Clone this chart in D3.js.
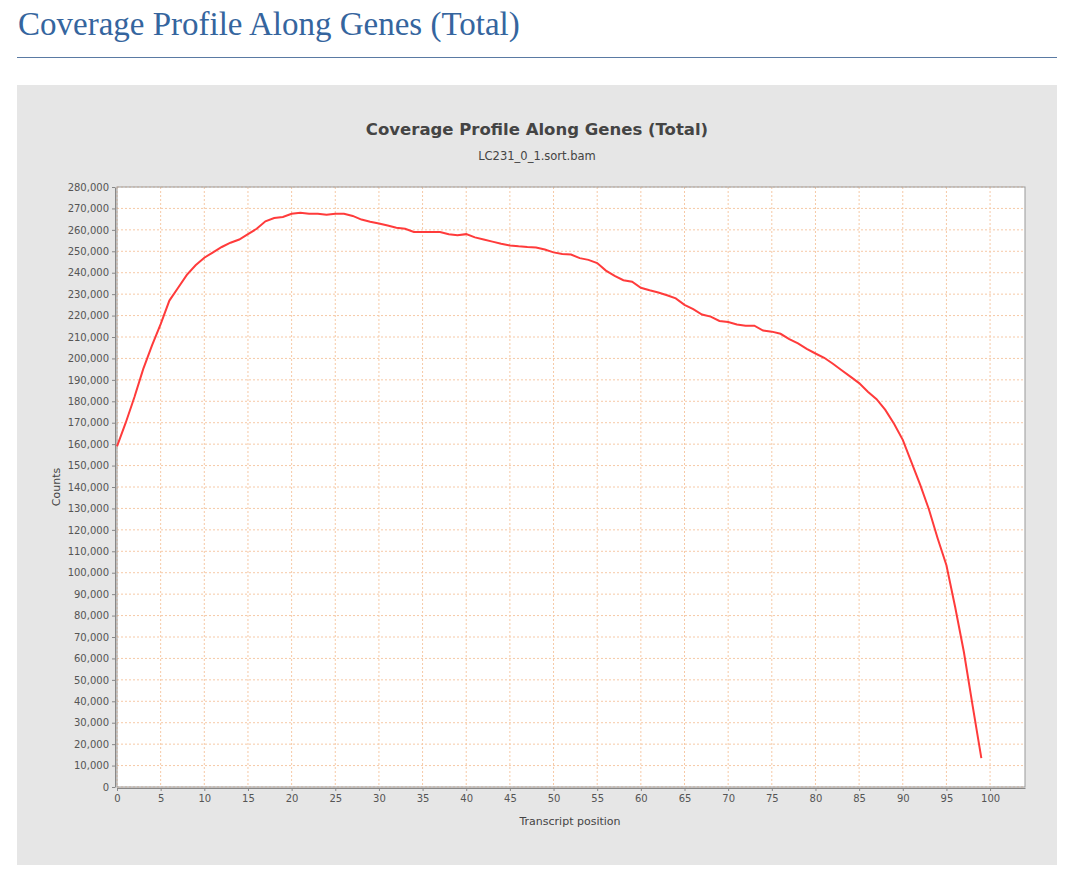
<!DOCTYPE html>
<html>
<head>
<meta charset="utf-8">
<script src="https://cdn.jsdelivr.net/npm/d3@7"></script>
<style>
  body { margin: 0; background: #fff; }
  h1 { font-family: "Liberation Serif", serif; font-weight: normal; color: #35659e;
       font-size: 33px; margin: 0; position: absolute; left: 18px; top: 6px; }
  .rule { position: absolute; left: 17px; top: 57px; width: 1040px; height: 1px; background: #5a7aa3; }
  #chart-area { position: absolute; left: 0; top: 0; }
</style>
</head>
<body>
<h1>Coverage Profile Along Genes (Total)</h1>
<div class="rule"></div>
<div id="chart-area"></div>
<script>
// counts per transcript position (0..99)
const positions = d3.range(0, 100)
const counts = [
  159000, 170000, 182000, 195000, 206000, 216000, 227000, 233000, 239000, 243500,
  247000, 249500, 252000, 254000, 255500, 258000, 260500, 264000, 265500, 266000,
  267500, 268000, 267500, 267500, 267000, 267500, 267500, 266500, 264800, 263800,
  263000, 262000, 261000, 260500, 259000, 259000, 259000, 259000, 258000, 257500,
  258000, 256500, 255500, 254500, 253500, 252700, 252300, 252000, 251800, 250800,
  249500, 248700, 248500, 246800, 246000, 244500, 241000, 238500, 236500, 235800,
  233000, 231800, 230800, 229500, 228000, 225000, 223000, 220500, 219500, 217500,
  217000, 215800, 215300, 215300, 213000, 212500, 211500, 209000, 207000, 204500,
  202300, 200300, 197500, 194500, 191500, 188500, 184500, 181000, 176000, 169500,
  162000, 151500, 141000, 129500, 116000, 103500, 84000, 63000, 38000, 13500
]
const xTicks = d3.range(0, 101, 5)
const yTicks = d3.range(0, 280001, 10000)

const title = "Coverage Profile Along Genes (Total)"
const subtitle = "LC231_0_1.sort.bam"

const svg = d3.select("#chart-area").append("svg")
    .attr("width", 1080)
    .attr("height", 874)

svg.append("rect")
    .attr("x", 17).attr("y", 85).attr("width", 1040).attr("height", 780)
    .style("fill", "#e6e6e6")

const pL = 117, pR = 1025, pT = 187, pB = 787
const x = d3.scaleLinear().domain([0, 104]).range([pL, pR])
const y = d3.scaleLinear().domain([0, 280000]).range([pB, pT])

svg.append("rect")
    .attr("x", pL).attr("y", pT).attr("width", pR - pL).attr("height", pB - pT)
    .style("fill", "#fff")

// grid
svg.append("g").selectAll("line").data(xTicks).enter().append("line")
    .attr("x1", d => x(d)).attr("x2", d => x(d)).attr("y1", pT).attr("y2", pB)
    .style("stroke", "#f6c9a6").style("stroke-dasharray", "2,2")
svg.append("g").selectAll("line").data(yTicks).enter().append("line")
    .attr("x1", pL).attr("x2", pR).attr("y1", d => y(d)).attr("y2", d => y(d))
    .style("stroke", "#f6c9a6").style("stroke-dasharray", "2,2")

svg.append("rect")
    .attr("x", pL).attr("y", pT).attr("width", pR - pL).attr("height", pB - pT)
    .style("fill", "none").style("stroke", "#999")

// axes
const xAxis = svg.append("g").attr("transform", `translate(0,${pB + 1})`)
    .call(d3.axisBottom(x).tickValues(xTicks).tickSize(3).tickSizeOuter(0).tickPadding(4))
const yAxis = svg.append("g").attr("transform", `translate(${pL - 2},0)`)
    .call(d3.axisLeft(y).tickValues(yTicks).tickSize(3).tickSizeOuter(0).tickFormat(d3.format(",")).tickPadding(3))
;[xAxis, yAxis].forEach(a => {
    a.selectAll("text").style("font-family", "'DejaVu Sans', sans-serif").style("font-size", "10px").style("fill", "#555")
    a.selectAll("line,path").style("stroke", "#888")
})

svg.append("path")
    .datum(positions)
    .attr("d", d3.line().x(i => x(i)).y(i => y(counts[i])))
    .style("fill", "none").style("stroke", "#ff3b3b").style("stroke-width", 2)

svg.append("text").attr("x", 537).attr("y", 135).attr("text-anchor", "middle")
    .style("font-family", "'DejaVu Sans', sans-serif").style("font-size", "16.5px").style("font-weight", "bold").style("fill", "#444")
    .text(title)
svg.append("text").attr("x", 537).attr("y", 160).attr("text-anchor", "middle")
    .style("font-family", "'DejaVu Sans', sans-serif").style("font-size", "11.5px").style("fill", "#444")
    .text(subtitle)
svg.append("text").attr("x", 570).attr("y", 825).attr("text-anchor", "middle")
    .style("font-family", "'DejaVu Sans', sans-serif").style("font-size", "11px").style("fill", "#444")
    .text("Transcript position")
svg.append("text").attr("transform", "translate(60,487) rotate(-90)").attr("text-anchor", "middle")
    .style("font-family", "'DejaVu Sans', sans-serif").style("font-size", "11px").style("fill", "#444")
    .text("Counts")
</script>
</body>
</html>
